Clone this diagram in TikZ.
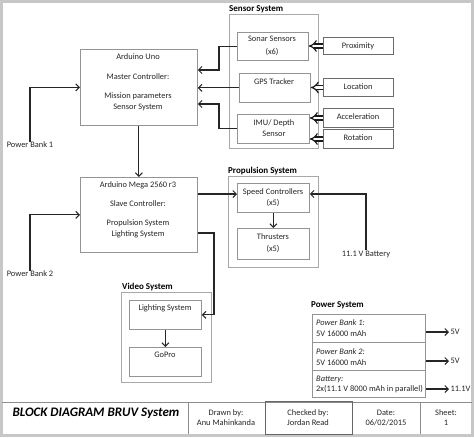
\documentclass[tikz,border=0pt]{standalone}
\usepackage{fontspec}
\setmainfont{Carlito}
\usetikzlibrary{arrows.meta}
\definecolor{framegray}{gray}{0.78}
\definecolor{boxgray}{gray}{0.58}
\definecolor{inbox}{gray}{0.42}
\definecolor{contgray}{gray}{0.66}
\definecolor{tbgray}{gray}{0.55}
\begin{document}
\begin{tikzpicture}[x=1pt,y=-1pt,
  box/.style={draw=boxgray, line width=0.8pt, anchor=north west, inner sep=0pt},
  inbox/.style={draw=inbox, line width=1pt, anchor=north west, inner sep=0pt},
  cont/.style={draw=contgray, line width=0.8pt, anchor=north west, inner sep=0pt},
  txt/.style={font=\fontsize{8.4}{10}\selectfont, inner sep=0pt, text=black!85},
  ltxt/.style={txt, anchor=west},
  itxt/.style={ltxt, font=\itshape\fontsize{8.4}{10}\selectfont},
  ttl/.style={font=\bfseries\fontsize{9}{11}\selectfont, inner sep=0pt, anchor=west},
  conn/.style={line width=1.1pt, draw=black!85, -{Straight Barb[length=3.5pt,width=7pt,line width=1pt]}},
  dbl/.style={draw=black!90, line width=1.2pt, double=white, double distance=2.8pt, -{Implies[length=5pt]}},
  tb/.style={draw=tbgray, line width=0.9pt}
]
\useasboundingbox (0,0) rectangle (474,437);
\fill[white] (0,0) rectangle (474,437);
\draw[draw=framegray, line width=3pt] (1.5,1.5) rectangle (472.8,435.3);

% ---------- Controllers ----------
\node[box, minimum width=117pt, minimum height=76pt] (uno) at (80,49) {};
\node[txt] (uno1) at (138,57) {Arduino Uno};
\node[txt] (uno2) at (138,77) {Master Controller:};
\node[txt] (uno3) at (138,96) {Mission parameters};
\node[txt] (uno4) at (138,107) {Sensor System};

\node[box, minimum width=117pt, minimum height=75pt] (mega) at (80,177) {};
\node[txt] (mega1) at (138,185) {Arduino Mega 2560 r3};
\node[txt] (mega2) at (138,204) {Slave Controller:};
\node[txt] (mega3) at (138,223) {Propulsion System};
\node[txt] (mega4) at (138,234) {Lighting System};

\node[txt] (pbl1) at (30,145) {Power Bank 1};
\node[txt] (pbl2) at (30,274) {Power Bank 2};

% ---------- Sensor system ----------
\node[cont, minimum width=89pt, minimum height=134pt] (sens) at (229,14) {};
\node[ttl] (tsens) at (229,9) {Sensor System};
\node[box, minimum width=71pt, minimum height=28pt] (sonar) at (237,32) {};
\node[txt] (sonar1) at (272,39) {Sonar Sensors};
\node[txt] (sonar2) at (272,52) {(x6)};
\node[box, minimum width=71pt, minimum height=29pt] (gps) at (239,73) {};
\node[txt] (gps1) at (274,82) {GPS Tracker};
\node[box, minimum width=72pt, minimum height=29pt] (imu) at (237,114) {};
\node[txt] (imu1) at (274,123) {IMU/ Depth};
\node[txt] (imu2) at (274,134) {Sensor};

\node[inbox, minimum width=70pt, minimum height=17pt] (prox) at (323,37) {};
\node[txt] (prox1) at (358,46) {Proximity};
\node[inbox, minimum width=70pt, minimum height=18pt] (loc) at (323,78) {};
\node[txt] (loc1) at (358,87) {Location};
\node[inbox, minimum width=70pt, minimum height=19pt] (acc) at (323,108) {};
\node[txt] (acc1) at (358,117) {Acceleration};
\node[inbox, minimum width=70pt, minimum height=19pt] (rot) at (323,129) {};
\node[txt] (rot1) at (358,138) {Rotation};

\draw[dbl] (prox.west) -- (prox.west -| sonar.east);
\draw[dbl] (loc.west) -- (loc.west -| gps.east);
\draw[dbl] (acc.west) -- (acc.west -| imu.east);
\draw[dbl] (rot.west) -- (rot.west -| imu.east);

% ---------- Propulsion system ----------
\node[cont, minimum width=90pt, minimum height=91pt] (prop) at (228,176) {};
\node[ttl] (tprop) at (228,171) {Propulsion System};
\node[box, minimum width=72pt, minimum height=29pt] (speed) at (237,183) {};
\node[txt] (speed1) at (273,192) {Speed Controllers};
\node[txt] (speed2) at (273,203) {(x5)};
\node[box, minimum width=72pt, minimum height=31pt] (thr) at (237,228) {};
\node[txt] (thr1) at (273,237) {Thrusters};
\node[txt] (thr2) at (273,249) {(x5)};
\node[txt] (batl) at (366,254) {11.1 V Battery};

% ---------- Video system ----------
\node[cont, minimum width=90pt, minimum height=90pt] (video) at (121,292) {};
\node[ttl] (tvid) at (122,287) {Video System};
\node[box, minimum width=72pt, minimum height=29pt] (light) at (129,300) {};
\node[txt] (light1) at (165,308) {Lighting System};
\node[box, minimum width=72pt, minimum height=29pt] (gopro) at (129,347) {};
\node[txt] (gopro1) at (165,355) {GoPro};

% ---------- Power system ----------
\node[ttl] (tpow) at (311,305) {Power System};
\node[box, minimum width=113pt, minimum height=28pt] (pb1) at (312,314) {};
\node[box, minimum width=113pt, minimum height=28pt] (pb2) at (312,342) {};
\node[box, minimum width=113pt, minimum height=27pt] (bat) at (312,370) {};
\node[itxt] (pb1a) at (316,323) {Power Bank 1:};
\node[ltxt] (pb1b) at (316,334) {5V 16000 mAh};
\node[itxt] (pb2a) at (316,352) {Power Bank 2:};
\node[ltxt] (pb2b) at (316,363) {5V 16000 mAh};
\node[itxt] (bata) at (316,379) {Battery:};
\node[ltxt] (batb) at (316,389) {2x(11.1 V 8000 mAh in parallel)};
\node[ltxt, inner sep=1.5pt] (v1) at (449,332) {5V};
\node[ltxt, inner sep=1.5pt] (v2) at (449,361) {5V};
\node[ltxt, inner sep=1.5pt] (v3) at (449,389) {11.1V};
\draw[conn] (pb1.east |- v1.west) -- (v1.west);
\draw[conn] (pb2.east |- v2.west) -- (v2.west);
\draw[conn] (bat.east |- v3.west) -- (v3.west);

% ---------- Connectors ----------
\coordinate (sb) at (219,70);
\coordinate (ib) at (219,104);
\coordinate (ms) at (197,194);
\coordinate (ml) at (214,233);
\draw[conn] (pbl1.north) |- (uno.west);
\draw[conn] (pbl2.north) |- (mega.west);
\draw[conn] (uno.south) -- (mega.north);
\draw[conn] (sonar.west) -| (sb) -- (sb -| uno.east);
\draw[conn] (gps.west) -- (gps.west -| uno.east);
\draw[conn] (imu.west) -| (ib) -- (ib -| uno.east);
\draw[conn] (ms -| mega.east) -- (ms -| speed.west);
\draw[conn] (ml -| mega.east) -- (ml) |- (light.east);
\draw[conn] (batl.north) |- (ms -| speed.east);
\draw[conn] (speed.south) -- (thr.north);
\draw[conn] (light.south) -- (gopro.north);

% ---------- Title block ----------
\draw[tb] (2,402) -- (472,402);
\draw[tb] (188,402) -- (188,434);
\draw[tb] (420,402) -- (420,434);
\draw[draw=black!60, line width=1pt] (265,401.5) rectangle (352,434);
\node[inner sep=0pt, font=\bfseries\itshape\fontsize{13}{15}\selectfont] (title) at (96,413) {BLOCK DIAGRAM BRUV System};
\node[txt] (dr1) at (226,413) {Drawn by:};
\node[txt] (dr2) at (226,423) {Anu Mahinkanda};
\node[txt] (ck1) at (308,413) {Checked by:};
\node[txt] (ck2) at (308,423) {Jordan Read};
\node[txt] (dt1) at (386,413) {Date:};
\node[txt] (dt2) at (386,423) {06/02/2015};
\node[txt] (sh1) at (446,413) {Sheet:};
\node[txt] (sh2) at (446,423) {1};
\end{tikzpicture}
\end{document}
